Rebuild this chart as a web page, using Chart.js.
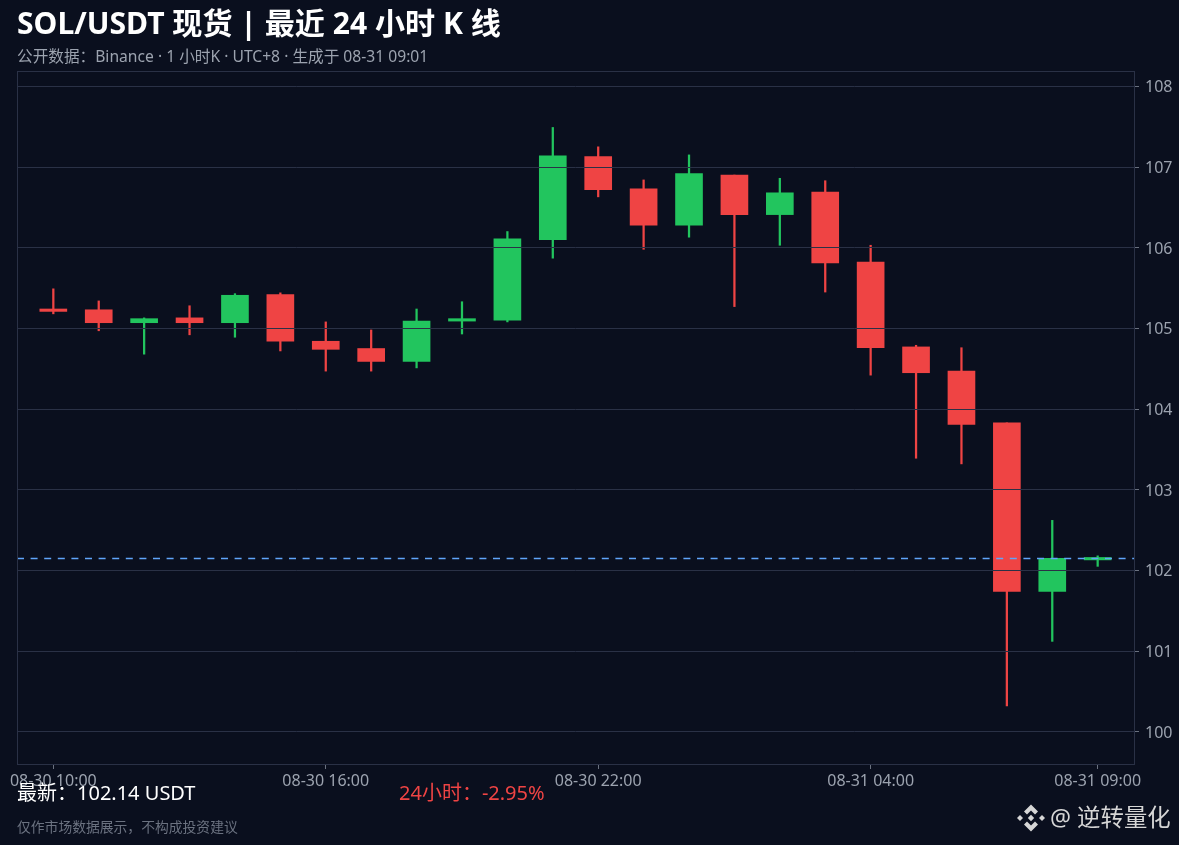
<!DOCTYPE html>
<html lang="zh-CN">
<head>
<meta charset="utf-8">
<title>SOL/USDT K 线</title>
<script src="https://cdn.jsdelivr.net/npm/chart.js@4"></script>
<style>
    html, body { margin: 0; padding: 0; background: #0a0f1e; }
    body { width: 1179px; height: 845px; position: relative; overflow: hidden;
           font-family: "Noto Sans", "Noto Sans CJK SC", sans-serif; }
    canvas { position: absolute; left: 0; top: 0; }
    .txt { position: absolute; white-space: nowrap; line-height: 1; }
    #title { left: 17px; top: 8px; font-size: 30.1px; font-weight: 700; color: #ffffff; }
    #subtitle { left: 17px; top: 49px; font-size: 15.65px; color: #9ca3af; }
    #latest { left: 17px; top: 783px; font-size: 20px; color: #ffffff; }
    #change { left: 399px; top: 783px; font-size: 20px; color: #ef4444; }
    #note { left: 17px; top: 820px; font-size: 13.8px; color: #6b7280; }
    #mark { left: 1050px; top: 806px; font-size: 23.4px; color: #d6d6d6; }
    #logo { position: absolute; left: 1017px; top: 804px; width: 28px; height: 28px; }
</style>
</head>
<body>
<canvas id="kline" width="1179" height="845"></canvas>
<div class="txt" id="title">SOL/USDT 现货 | 最近 24 小时 K 线</div>
<div class="txt" id="subtitle">公开数据：Binance · 1 小时K · UTC+8 · 生成于 08-31 09:01</div>
<div class="txt" id="latest">最新：102.14 USDT</div>
<div class="txt" id="change">24小时：-2.95%</div>
<div class="txt" id="note">仅作市场数据展示，不构成投资建议</div>
<svg id="logo" viewBox="0 0 28 28">
    <g fill="#d6d6d6">
        <path d="M14 0.5 L21 7.5 L18 10.5 L14 6.5 L10 10.5 L7 7.5 Z"/>
        <path d="M14 27.5 L7 20.5 L10 17.5 L14 21.5 L18 17.5 L21 20.5 Z"/>
        <path d="M3 11 L6 14 L3 17 L0 14 Z"/>
        <path d="M25 11 L28 14 L25 17 L22 14 Z"/>
        <path d="M14 10.8 L17.2 14 L14 17.2 L10.8 14 Z"/>
    </g>
</svg>
<div class="txt" id="mark">@ 逆转量化</div>
<script>
const timeLabels = [
    '08-30 10:00', '08-30 11:00', '08-30 12:00', '08-30 13:00', '08-30 14:00', '08-30 15:00',
    '08-30 16:00', '08-30 17:00', '08-30 18:00', '08-30 19:00', '08-30 20:00', '08-30 21:00',
    '08-30 22:00', '08-30 23:00', '08-31 00:00', '08-31 01:00', '08-31 02:00', '08-31 03:00',
    '08-31 04:00', '08-31 05:00', '08-31 06:00', '08-31 07:00', '08-31 08:00', '08-31 09:00'
];
const opens  = [105.24, 105.23, 105.07, 105.13, 105.07, 105.42, 104.84, 104.75, 104.59, 105.09, 105.10, 106.10,
                107.13, 106.73, 106.28, 106.90, 106.41, 106.69, 105.82, 104.77, 104.47, 103.83, 101.74, 102.13];
const closes = [105.21, 105.07, 105.12, 105.07, 105.41, 104.84, 104.74, 104.59, 105.09, 105.12, 106.11, 107.14,
                106.72, 106.28, 106.92, 106.41, 106.68, 105.81, 104.76, 104.45, 103.81, 101.74, 102.15, 102.16];
const highs  = [105.49, 105.34, 105.13, 105.28, 105.43, 105.44, 105.08, 104.98, 105.24, 105.33, 106.20, 107.49,
                107.25, 106.84, 107.15, 106.90, 106.86, 106.83, 106.03, 104.79, 104.76, 103.83, 102.62, 102.18];
const lows   = [105.18, 104.97, 104.68, 104.92, 104.89, 104.72, 104.47, 104.47, 104.51, 104.93, 105.08, 105.87,
                106.63, 105.98, 106.13, 105.27, 106.03, 105.45, 104.42, 103.39, 103.32, 100.32, 101.12, 102.05];
const tickIndexes = [0, 6, 12, 18, 23];
const priceTicks = [100, 101, 102, 103, 104, 105, 106, 107, 108];
const lastPrice = 102.14;

const UP = '#22c55e';
const DOWN = '#ef4444';
const LINE = '#2a3146';
const AXIS_FONT = { family: '"Noto Sans", "Noto Sans CJK SC", sans-serif', size: 16 };
const candleColor = i => (closes[i] >= opens[i] ? UP : DOWN);

// 现价虚线和四周边框，柱子画完之后再画
const overlayPlugin = {
    id: 'overlay',
    afterDraw(chart) {
        const { ctx, chartArea: a, scales } = chart;
        const y = Math.round(scales.y.getPixelForValue(lastPrice)) - 0.5;
        ctx.save();
        ctx.strokeStyle = '#60a5fa';
        ctx.lineWidth = 1.5;
        ctx.setLineDash([7, 6.6]);
        ctx.beginPath();
        ctx.moveTo(a.left, y);
        ctx.lineTo(a.right, y);
        ctx.stroke();
        ctx.setLineDash([]);
        ctx.strokeStyle = LINE;
        ctx.lineWidth = 1;
        ctx.strokeRect(a.left + 0.5, a.top + 0.5, a.right - a.left, a.bottom - a.top);
        ctx.restore();
    }
};

new Chart(document.getElementById('kline'), {
    type: 'bar',
    data: {
        datasets: [
            {
                label: 'wick',
                data: timeLabels.map((t, i) => ({ x: i, y: [lows[i], highs[i]] })),
                backgroundColor: timeLabels.map((t, i) => candleColor(i)),
                barThickness: 1.6,
                grouped: false,
                order: 2
            },
            {
                label: 'body',
                data: timeLabels.map((t, i) => ({ x: i, y: [opens[i], closes[i]] })),
                backgroundColor: timeLabels.map((t, i) => candleColor(i)),
                barThickness: 27,
                grouped: false,
                order: 1
            }
        ]
    },
    options: {
        responsive: false,
        animation: false,
        layout: { padding: { left: 17, top: 71, right: 0, bottom: 0 } },
        plugins: { legend: { display: false }, tooltip: { enabled: false } },
        scales: {
            x: {
                type: 'linear',
                offset: false,
                min: -0.8,
                max: 23.8,
                afterBuildTicks: scale => { scale.ticks = tickIndexes.map(v => ({ value: v })); },
                afterFit: scale => { scale.height = 81; },
                grid: { offset: false, drawOnChartArea: false, color: '#6b7280', tickLength: 5 },
                border: { display: false },
                ticks: {
                    autoSkip: false,
                    maxRotation: 0,
                    padding: 3,
                    color: '#9ca3af',
                    font: AXIS_FONT,
                    callback: v => timeLabels[v]
                }
            },
            y: {
                position: 'right',
                min: 99.6,
                max: 108.19,
                afterBuildTicks: scale => { scale.ticks = priceTicks.map(v => ({ value: v })); },
                afterFit: scale => { scale.width = 45; },
                grid: { color: LINE, z: 1, tickLength: 5, tickColor: '#6b7280' },
                border: { display: false },
                ticks: {
                    padding: 6,
                    labelOffset: 1.5,
                    color: '#9ca3af',
                    font: AXIS_FONT,
                    callback: v => String(v)
                }
            }
        }
    },
    plugins: [overlayPlugin]
});
</script>
</body>
</html>
